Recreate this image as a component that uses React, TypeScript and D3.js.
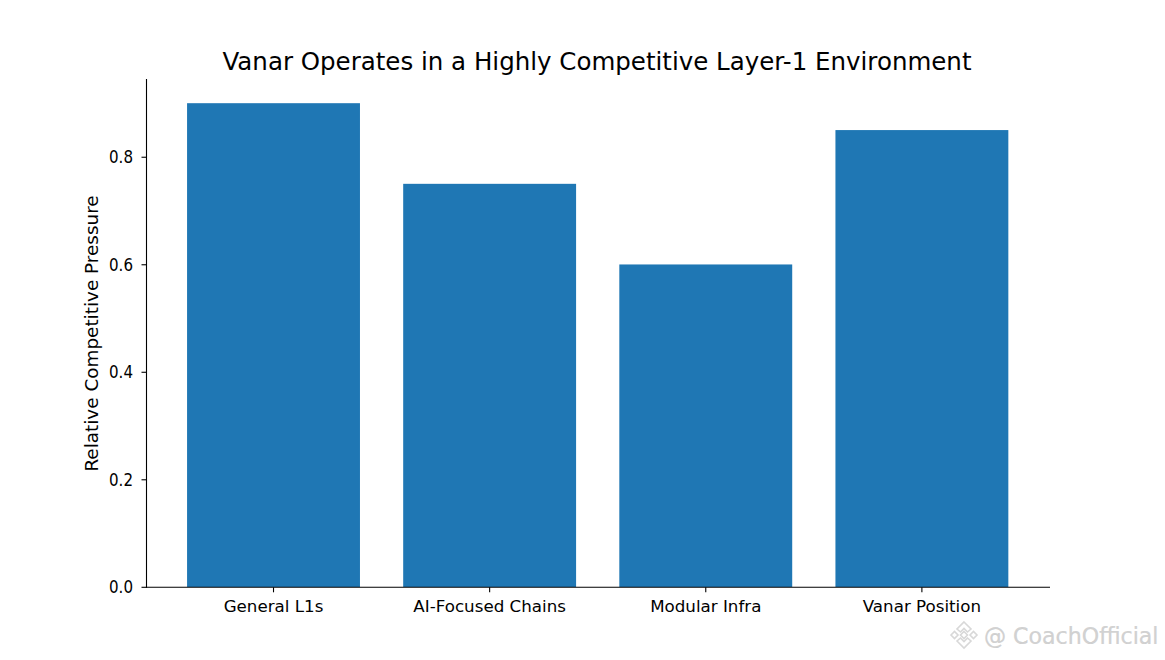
import React from "react";
import * as d3 from "d3";

const categories = ["General L1s", "AI-Focused Chains", "Modular Infra", "Vanar Position"];
const values = [0.9, 0.75, 0.6, 0.85];
const yTicks = [0, 0.2, 0.4, 0.6, 0.8];
const titleText = "Vanar Operates in a Highly Competitive Layer-1 Environment";
const yLabel = "Relative Competitive Pressure";
const watermark = "@ CoachOfficial";

const W = 1165, H = 660;
const left = 146, right = 1049.4, top = 79, bottom = 587;
const FONT = "'DejaVu Sans', sans-serif";

export default function App() {
  const x = d3.scaleLinear().domain([-0.59, 3.59]).range([left, right]);
  const y = d3.scaleLinear().domain([0, 0.945]).range([bottom, top]);
  const bw = x(0.8) - x(0);
  const ax = left + 0.5, ay = bottom + 0.3;
  return (
    <svg width={W} height={H} viewBox={`0 0 ${W} ${H}`} style={{ position: "absolute", left: 0, top: 0, background: "#fff" }} fontFamily={FONT}>
      <text x={597} y={70} textAnchor="middle" fontSize={24.5} fill="#000">{titleText}</text>
      {values.map((v, i) => (
        <rect key={categories[i]} x={x(i) - bw / 2} y={y(v)} width={bw} height={bottom - y(v)} fill="#1f77b4" />
      ))}
      <line x1={ax} x2={ax} y1={top} y2={ay + 0.5} stroke="#000" strokeWidth={1.1} />
      <line x1={ax - 0.5} x2={right + 0.6} y1={ay} y2={ay} stroke="#000" strokeWidth={1.1} />
      {yTicks.map(t => (
        <g key={t}>
          <line x1={ax - 5} x2={ax} y1={y(t) + 0.3} y2={y(t) + 0.3} stroke="#000" strokeWidth={1.1} />
          <text x={left - 37} y={y(t) + 6.2} textLength={24} lengthAdjust="spacingAndGlyphs" fontSize={16.8} fill="#000">{t.toFixed(1)}</text>
        </g>
      ))}
      {categories.map((c, i) => (
        <g key={c}>
          <line x1={x(i)} x2={x(i)} y1={ay} y2={ay + 5} stroke="#000" strokeWidth={1.1} />
          <text x={x(i)} y={bottom + 24.5} textAnchor="middle" fontSize={16.7} fill="#000">{c}</text>
        </g>
      ))}
      <text transform={`translate(98,${(top + bottom) / 2 + 0.5}) rotate(-90)`} textAnchor="middle" fontSize={18.4} fill="#000">{yLabel}</text>
      <g transform="translate(964,635)" fill="none" stroke="#d8d8d8" strokeWidth={1.6}>
        <path d="M0,-13 L7,-6 L3.5,-3 L0,-6.5 L-3.5,-3 L-7,-6 Z" />
        <path d="M-13,0 L-9.5,-3.5 L-6,0 L-9.5,3.5 Z" />
        <path d="M13,0 L9.5,-3.5 L6,0 L9.5,3.5 Z" />
        <path d="M0,-3.5 L3.5,0 L0,3.5 L-3.5,0 Z" />
        <path d="M-7,6 L0,13 L7,6 L3.5,3 L0,6.5 L-3.5,3 Z" />
      </g>
      <text x={984} y={644} fontSize={22.1} fill="#d2d2d2" stroke="#c4c4c4" strokeWidth={0.2}>{watermark}</text>
    </svg>
  );
}
